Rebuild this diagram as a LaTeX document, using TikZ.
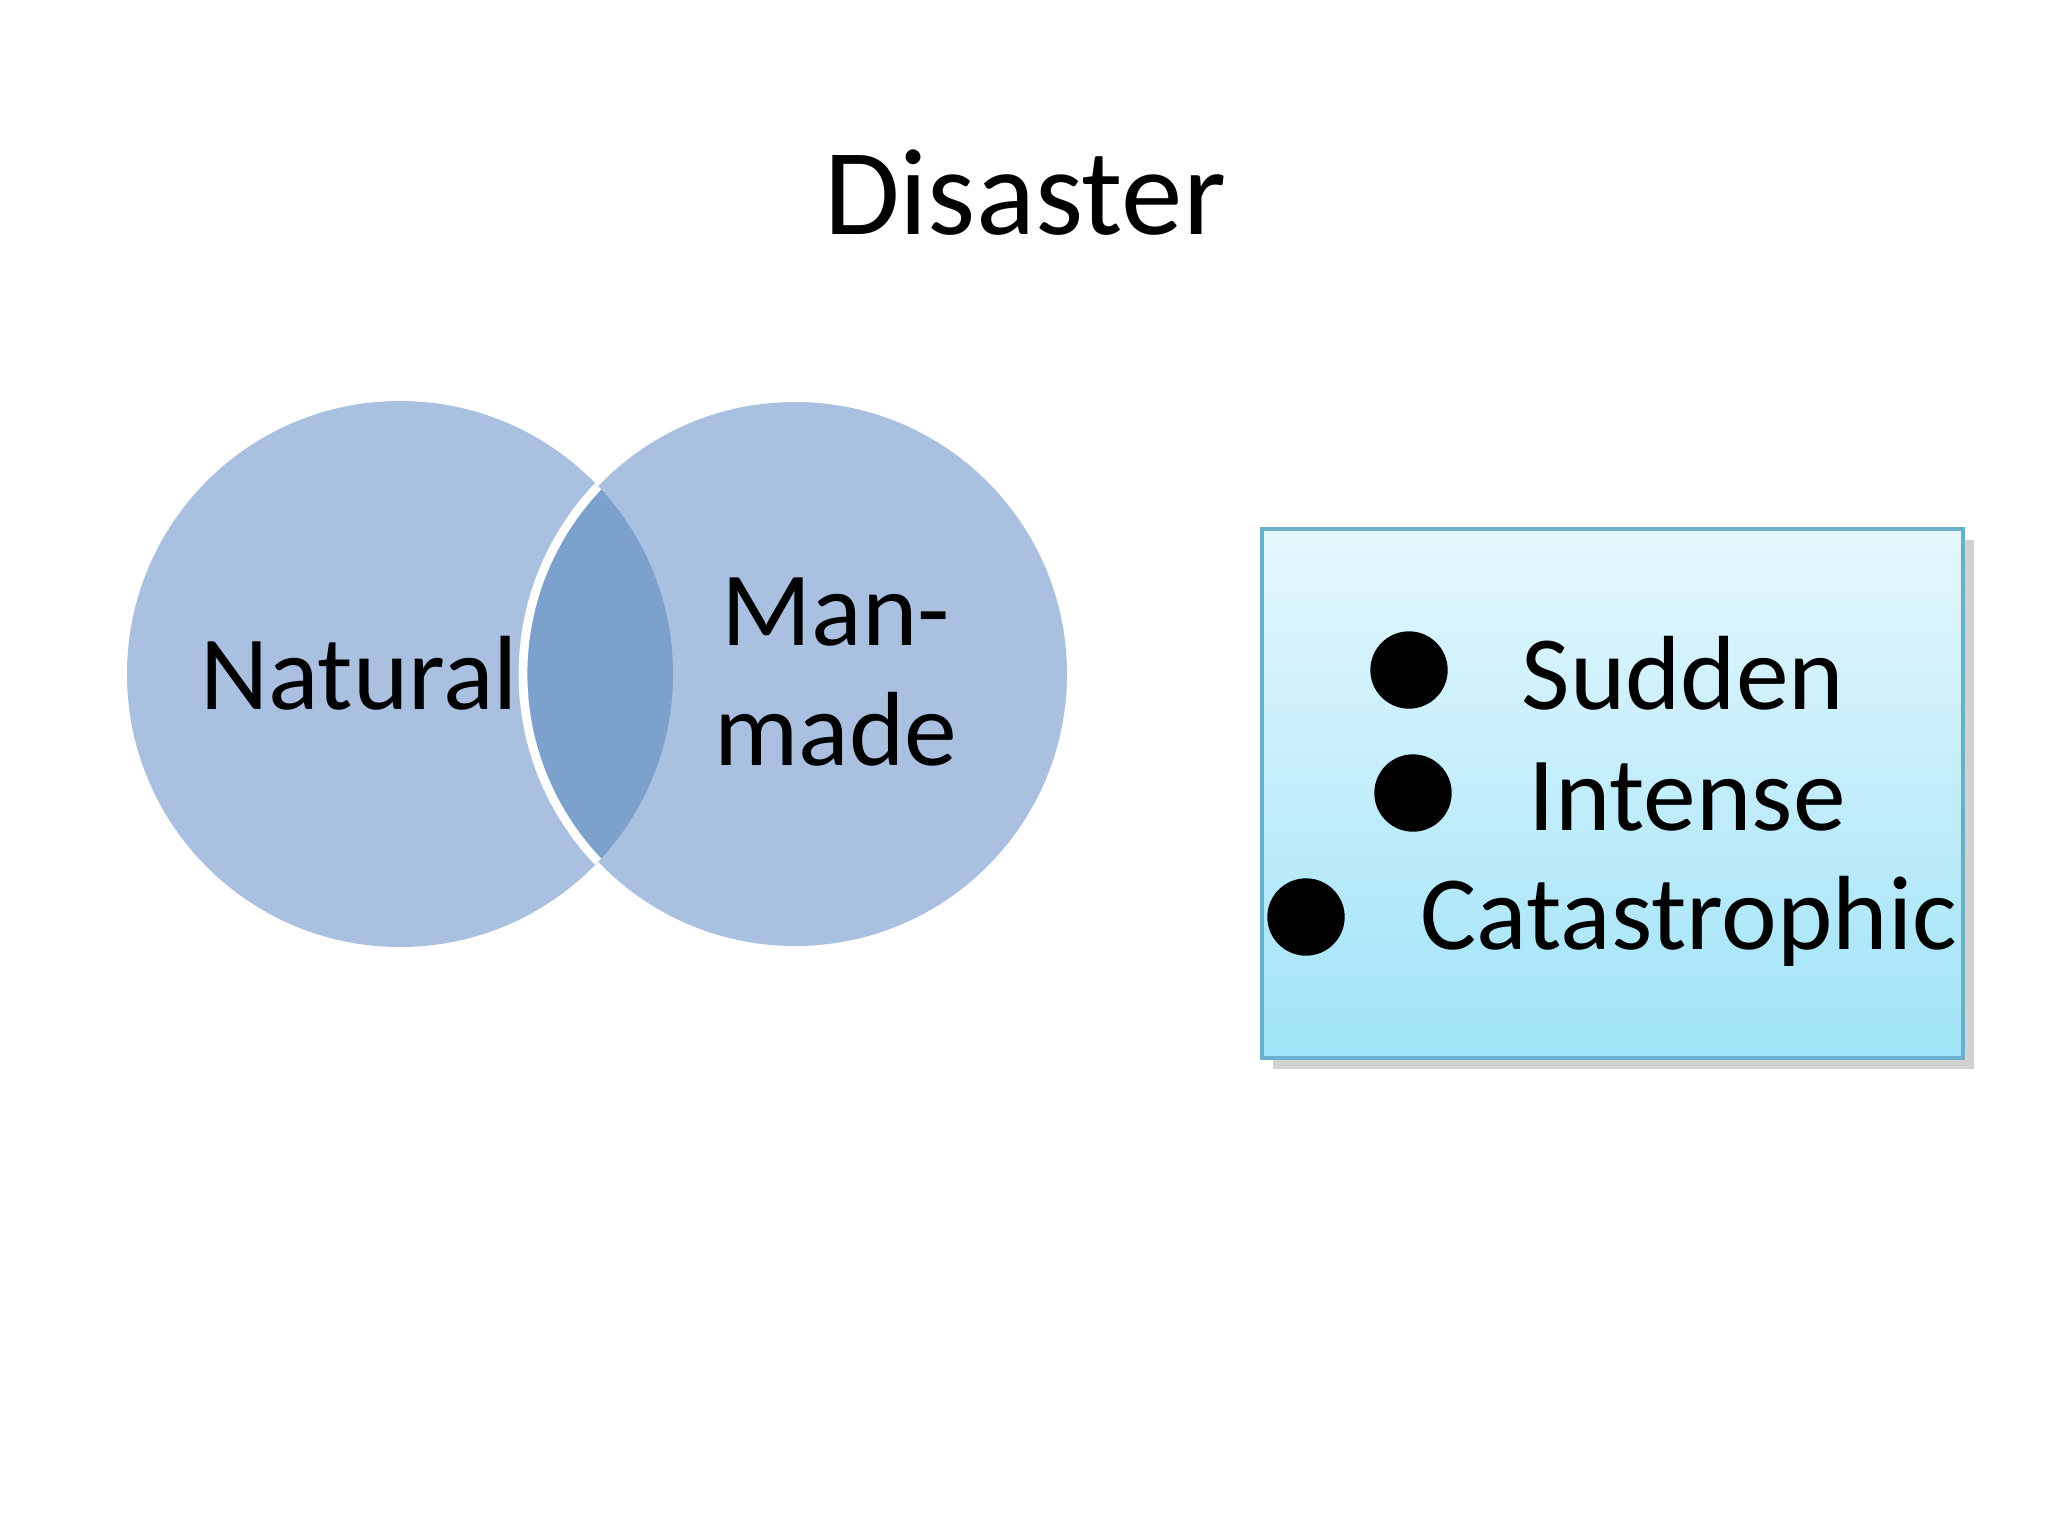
\documentclass[tikz,border=0pt]{standalone}
\usepackage{fontspec}
\setmainfont{Carlito}
\usetikzlibrary{shadows}
\definecolor{circ}{HTML}{A9C0E0}
\definecolor{inter}{HTML}{7CA1CC}
\definecolor{boxtop}{HTML}{E4F7FD}
\definecolor{boxbot}{HTML}{A0E3F8}
\definecolor{boxline}{HTML}{6AAFCB}
\begin{document}
\begin{tikzpicture}[x=0.01cm,y=-0.01cm,
  lbl/.style={font=\fontsize{30}{36}\selectfont,inner sep=0pt},
  dot/.style={circle,fill=black,inner sep=0pt,minimum size=22}]
\useasboundingbox (0,0) rectangle (2048,1536);
\fill[white] (0,0) rectangle (2048,1536);
\node[font=\fontsize{35}{42}\selectfont] (title) at (1025,193) {Disaster};
% circles
\fill[circ] (400,674) circle (273);
\fill[circ] (795,674) circle (272);
\begin{scope}
\clip (400,674) circle (273);
\fill[inter] (795,674) circle (272);
\draw[white,line width=2.5] (795,674) circle (272);
\end{scope}
\node[lbl] (nat) at (359,673) {Natural};
\node[lbl,align=center] (man) at (836,672) {Man-\\[-2pt]made};
% box
\shade[top color=boxtop,bottom color=boxbot,draw=boxline,line width=1.2,
  drop shadow={shadow xshift=3pt,shadow yshift=-3pt,opacity=0.35}]
  (1262,529) rectangle (1963,1058);
\node[dot] (d1) at (1409,670) {};
\node[dot] (d2) at (1413,793) {};
\node[dot] (d3) at (1306,917) {};
\node[lbl,anchor=west] (t1) at (1521,673) {Sudden};
\node[lbl,anchor=west] (t2) at (1528,797) {Intense};
\node[lbl,anchor=west] (t3) at (1420,921) {Catastrophic};
\end{tikzpicture}
\end{document}
